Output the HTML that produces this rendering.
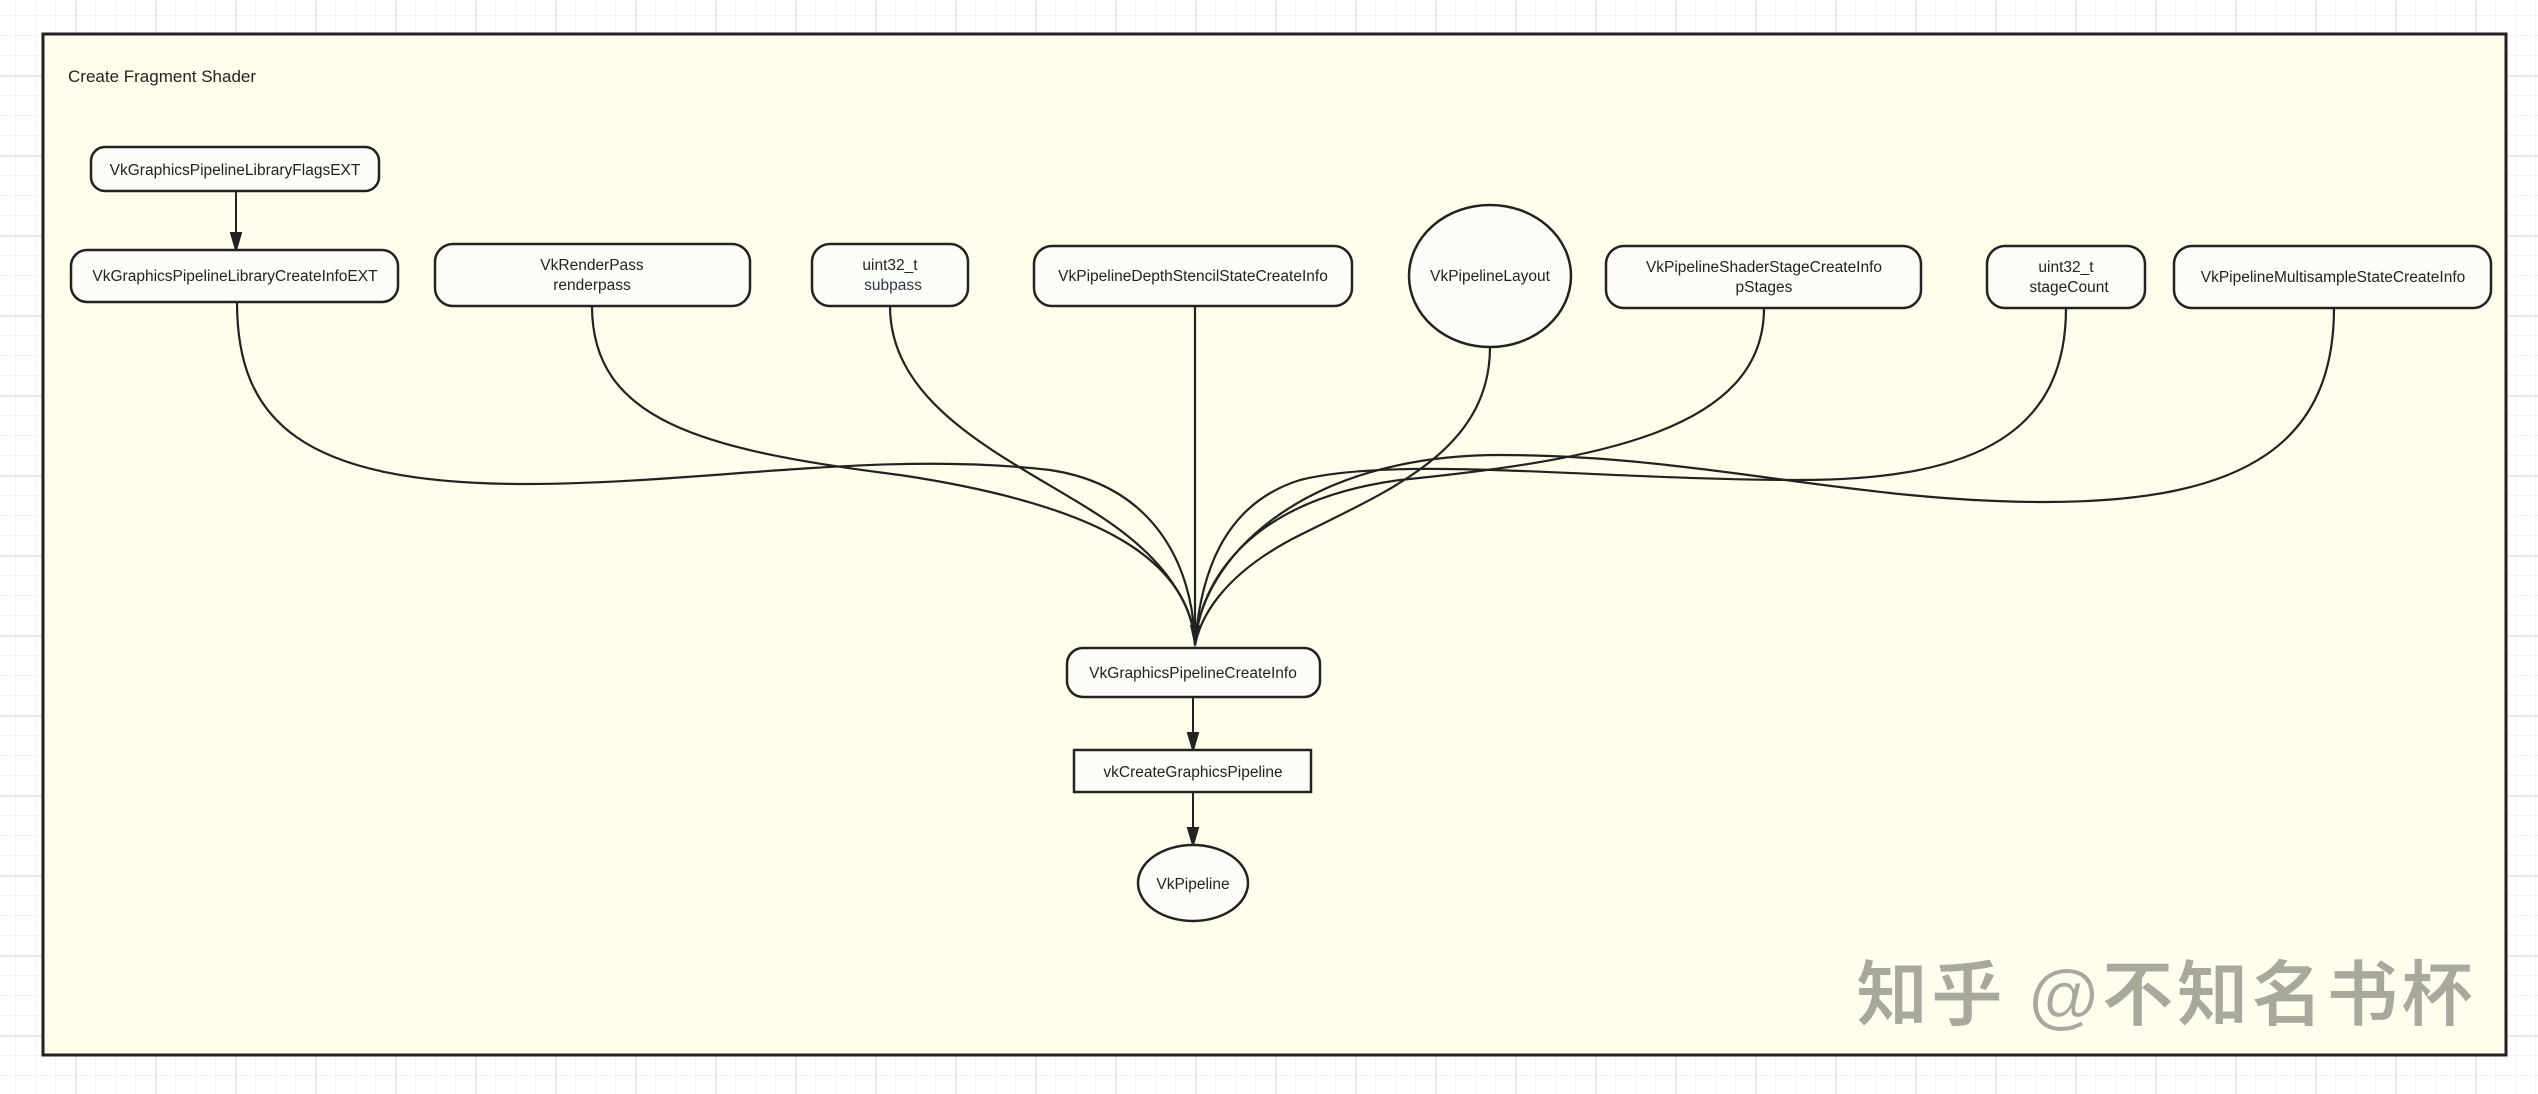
<!DOCTYPE html>
<html><head><meta charset="utf-8"><style>
html,body{margin:0;padding:0;}
body{width:2538px;height:1094px;overflow:hidden;background:#fff;
background-image:linear-gradient(#e8e8e8 2px,transparent 2px),linear-gradient(90deg,#e8e8e8 2px,transparent 2px),linear-gradient(#f3f3f3 1px,transparent 1px),linear-gradient(90deg,#f3f3f3 1px,transparent 1px);
background-size:80px 80px,80px 80px,20px 20px,20px 20px;background-position:-5px -5px;}
svg{position:absolute;left:0;top:0;}
text{font-family:"Liberation Sans",sans-serif;font-size:15.5px;fill:#222;}
</style></head><body>
<svg width="2538" height="1094" viewBox="0 0 2538 1094">
<rect x="43" y="34" width="2463" height="1021" fill="#fefeea" stroke="#222" stroke-width="3"/>
<text x="68" y="82" style="font-size:17px">Create Fragment Shader</text>
<g fill="none" stroke="#222" stroke-width="2.2">
<path d="M237,302 C237,420 300,484 526,484 C700,484 880,450 1050,470 C1150,485 1193,560 1195,645"/>
<path d="M592,306 C592,420 700,450 900,475 C1100,505 1190,560 1195,645"/>
<path d="M890,306 C890,420 1040,470 1120,530 C1180,575 1195,620 1195,645"/>
<path d="M1195,306 L1195,645"/>
<path d="M1490,347 C1490,450 1390,490 1300,535 C1220,575 1200,620 1195,645"/>
<path d="M1764,308 C1764,430 1600,460 1400,480 C1250,500 1200,580 1195,645"/>
<path d="M2066,308 C2066,430 1980,480 1800,480 C1600,480 1400,455 1300,480 C1220,505 1200,580 1195,645"/>
<path d="M2334,308 C2334,440 2250,502 2046,502 C1850,502 1700,455 1500,455 C1300,455 1200,560 1195,645"/>
</g>
<path d="M1190,625 L1200,625 L1195,648 z" fill="#222"/>
<g stroke="#222" stroke-width="2">
<line x1="236" y1="191" x2="236" y2="237"/><path d="M231,233 L241,233 L236,250 z" fill="#222"/>
<line x1="1193" y1="697" x2="1193" y2="737"/><path d="M1188,733 L1198,733 L1193,750 z" fill="#222"/>
<line x1="1193" y1="792" x2="1193" y2="832"/><path d="M1188,828 L1198,828 L1193,845 z" fill="#222"/>
</g>
<g fill="#fdfdf8" stroke="#222" stroke-width="2.5">
<rect x="91" y="147" width="288" height="44" rx="14"/>
<rect x="71" y="250" width="327" height="52" rx="16"/>
<rect x="435" y="244" width="315" height="62" rx="18"/>
<rect x="812" y="244" width="156" height="62" rx="18"/>
<rect x="1034" y="246" width="318" height="60" rx="18"/>
<ellipse cx="1490" cy="276" rx="81" ry="71"/>
<rect x="1606" y="246" width="315" height="62" rx="18"/>
<rect x="1987" y="246" width="158" height="62" rx="18"/>
<rect x="2174" y="246" width="317" height="62" rx="18"/>
<rect x="1067" y="648" width="253" height="49" rx="16"/>
<rect x="1074" y="750" width="237" height="42" rx="0"/>
<ellipse cx="1193" cy="883" rx="55" ry="38"/>
</g>
<g text-anchor="middle">
<text x="235" y="175">VkGraphicsPipelineLibraryFlagsEXT</text>
<text x="235" y="281">VkGraphicsPipelineLibraryCreateInfoEXT</text>
<text x="592" y="270">VkRenderPass</text><text x="592" y="290">renderpass</text>
<text x="890" y="270">uint32_t</text><text x="893" y="290" style="fill:#2a3a4a">subpass</text>
<text x="1193" y="281">VkPipelineDepthStencilStateCreateInfo</text>
<text x="1490" y="281">VkPipelineLayout</text>
<text x="1764" y="272">VkPipelineShaderStageCreateInfo</text><text x="1764" y="292">pStages</text>
<text x="2066" y="272">uint32_t</text><text x="2069" y="292">stageCount</text>
<text x="2333" y="282">VkPipelineMultisampleStateCreateInfo</text>
<text x="1193" y="678">VkGraphicsPipelineCreateInfo</text>
<text x="1193" y="777">vkCreateGraphicsPipeline</text>
<text x="1193" y="889">VkPipeline</text>
</g>
<text x="1856" y="1020" textLength="617" style="font-family:'Liberation Sans','Noto Sans CJK SC',sans-serif;font-size:72px;font-weight:bold;fill:#a9a99a;stroke:#fff;stroke-width:1">知乎 @不知名书杯</text>
</svg>
</body></html>
